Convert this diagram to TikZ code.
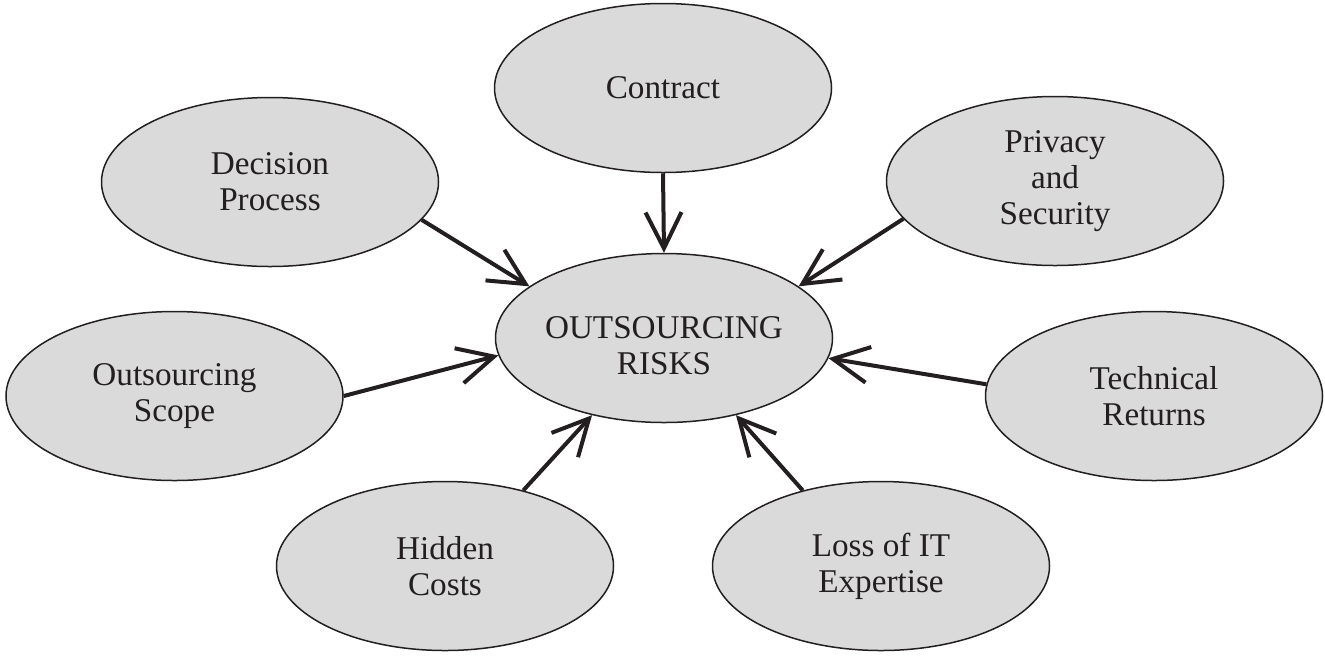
\documentclass[tikz,border=0pt]{standalone}
\usepackage{fontspec}
\setmainfont{Liberation Serif}
\usetikzlibrary{arrows.meta}
\usetikzlibrary{shapes.geometric}
\definecolor{ink}{HTML}{231F20}
\definecolor{shade}{HTML}{DADADA}

\begin{document}
\begin{tikzpicture}[x=0.5pt, y=-0.5pt, >={Straight Barb[length=18pt, width=18pt, sharp]}]
    \fontsize{16.6pt}{18pt}\selectfont

    \tikzstyle{risk} = [ellipse, draw=ink, fill=shade, line width=0.75pt, minimum width=168.5pt, minimum height=84.5pt, inner sep=0pt, align=center, text=ink]
    \tikzstyle{connector} = [->, draw=ink, line width=2pt]

    \useasboundingbox (0,0) rectangle (1325,660);

    % Risk nodes around the centre %%%%%%%%%%%%%%%%%%%%%%%%%%%%%%%%%%%%%%%%%%%%%%%%%%%%%%
    \node[risk, text height=37pt] (risks) at (664,338) {OUTSOURCING\\RISKS};
    \node[risk] (contract)  at (663,88)    {Contract};
    \node[risk] (decision)  at (270,182)   {Decision\\Process};
    \node[risk] (privacy)   at (1055,181)  {Privacy\\and\\Security};
    \node[risk] (scope)     at (174.5,396) {Outsourcing\\Scope};
    \node[risk] (technical) at (1154,396)  {Technical\\Returns};
    \node[risk] (hidden)    at (445,566)   {Hidden\\Costs};
    \node[risk] (expertise) at (881,566)   {Loss of IT\\Expertise};

    % Now link the nodes %%%%%%%%%%%%%%%%%%%%%%%%%%%%%%%%%%%%%%%%%%%%%%%%%%%%%%%%%%%%%%%%
    \draw [connector] (contract.-90)   -- (risks.90);
    \draw [connector] (decision.-14)   -- (risks.159);
    \draw [connector] (privacy.194)    -- (risks.21);
    \draw [connector] (scope.0)        -- (risks.186);
    \draw [connector] (technical.176)  -- (risks.-7);
    \draw [connector] (hidden.44)      -- (risks.-133);
    \draw [connector] (expertise.136)  -- (risks.-47);

\end{tikzpicture}
\end{document}
